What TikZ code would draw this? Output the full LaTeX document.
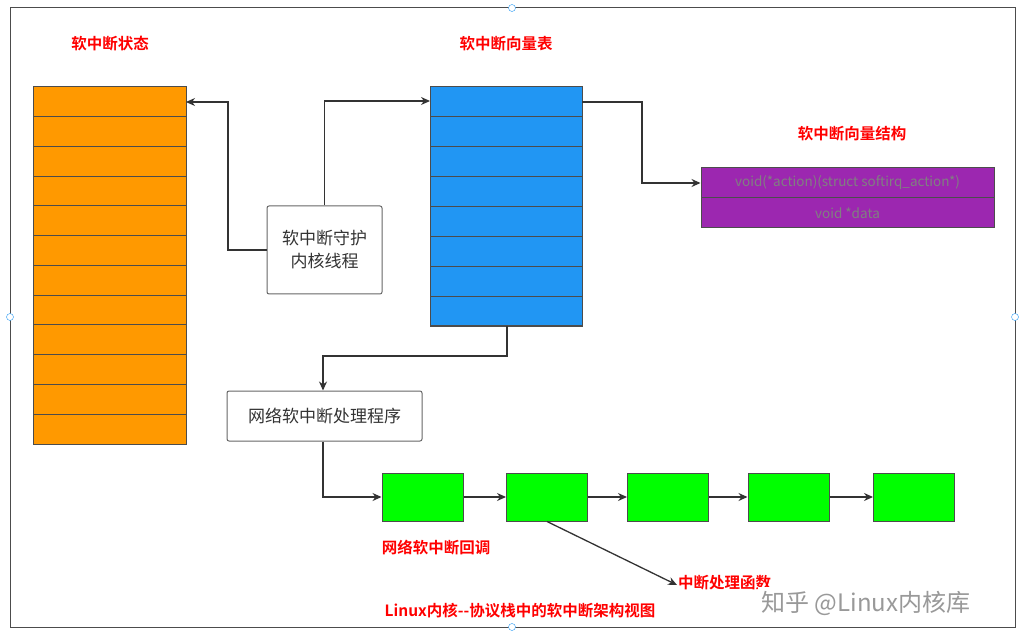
\documentclass[tikz,border=0pt]{standalone}
\usepackage{fontspec}
\setmainfont{Noto Sans CJK SC}
\newfontfamily\cjkb{Noto Sans CJK SC Bold}
\usetikzlibrary{arrows.meta}
\definecolor{org}{HTML}{FF9900}
\definecolor{blu}{HTML}{2196F3}
\definecolor{pur}{HTML}{9C27B0}
\definecolor{grn}{HTML}{00FF00}
\definecolor{lnc}{HTML}{333333}
\tikzset{
 lbl/.style={text=red,font=\cjkb\fontsize{15.5}{18}\selectfont,inner sep=0},
 conn/.style={draw=lnc,line width=1.3pt,-{Stealth[length=9pt,width=8pt]}},
 gbox/.style={draw=black!70,line width=1pt,fill=grn,minimum width=81pt,minimum height=48pt,inner sep=0},
 wbox/.style={draw=black!60,line width=1pt,rounded corners=2pt,fill=white,align=center,font=\fontsize{17}{23}\selectfont,text=black!80,inner sep=0},
 pbox/.style={draw=black!70,line width=1pt,fill=pur,minimum width=293pt,minimum height=30pt,inner sep=0,text=black!50,font=\fontsize{13.5}{15}\selectfont},
 handle/.style={circle,draw=blu,fill=white,inner sep=0,minimum size=7pt}
}
\begin{document}
\begin{tikzpicture}[x=1pt,y=-1pt]
\useasboundingbox (0,0) rectangle (1028,644);
% frame
\draw[black!70,line width=1pt] (10,8) rectangle (1015,627);
\node[handle] (h1) at (512,8) {};
\node[handle] (h2) at (10,317) {};
\node[handle] (h3) at (1015,317) {};
\node[handle] (h4) at (512,627) {};
% orange table
\foreach \i in {0,...,11}{
 \draw[fill=org,draw=black!70,line width=1pt] (33,{87+\i*29.75}) rectangle (186,{87+(\i+1)*29.75});}
\coordinate (o1) at (186,102);
% blue table
\foreach \i in {0,...,7}{
 \draw[fill=blu,draw=black!70,line width=1pt] (430,{87+\i*29.875}) rectangle (582,{87+(\i+1)*29.875});}
\coordinate (bl) at (430,101);
\coordinate (br) at (582,102);
\coordinate (bb) at (507,326);
% purple
\node[pbox] (p1) at (847.5,183) {void(*action)(struct softirq\_action*)};
\node[pbox] (p2) at (847.5,213) {void *data};
% boxes
\node[wbox,minimum width=115pt,minimum height=88pt] (d) at (324.5,250) {软中断守护\\内核线程};
\node[wbox,minimum width=195pt,minimum height=50pt] (n) at (324.5,416) {网络软中断处理程序};
\node[gbox] (g1) at (422.5,497) {};
\node[gbox] (g2) at (547,497) {};
\node[gbox] (g3) at (668,497) {};
\node[gbox] (g4) at (788.5,497) {};
\node[gbox] (g5) at (914,497) {};
\coordinate (fn) at (677,585);
% connectors
\draw[conn] (d.west) -- (228,250) -- (228,102) -- (o1);
\draw[conn] (d.north) -- (324.5,101) -- (bl);
\draw[conn] (br) -- (642,102) -- (642,183) -- (p1.west);
\draw[conn] (bb) -- (507,356) -- (323,356) -- (n.north -| 323,0);
\draw[conn] (n.south -| 323,0) -- (323,497) -- (g1.west);
\draw[conn] (g1) -- (g2);
\draw[conn] (g2) -- (g3);
\draw[conn] (g3) -- (g4);
\draw[conn] (g4) -- (g5);
\draw[conn] (g2.south) -- (fn);
% labels
\node[lbl] (l1) at (110,44) {软中断状态};
\node[lbl] (l2) at (506,44) {软中断向量表};
\node[lbl] (l3) at (852,134) {软中断向量结构};
\node[lbl] (l4) at (436,548) {网络软中断回调};
\node[lbl,anchor=west] (l5) at (678,583) {中断处理函数};
\node[lbl] (l6) at (520,611) {Linux内核--协议栈中的软中断架构视图};
% watermark
\node[fill=white,text=black!40,font=\fontsize{24}{28}\selectfont,inner sep=4pt] (wm) at (866,603) {知乎 @Linux内核库};
\end{tikzpicture}
\end{document}
